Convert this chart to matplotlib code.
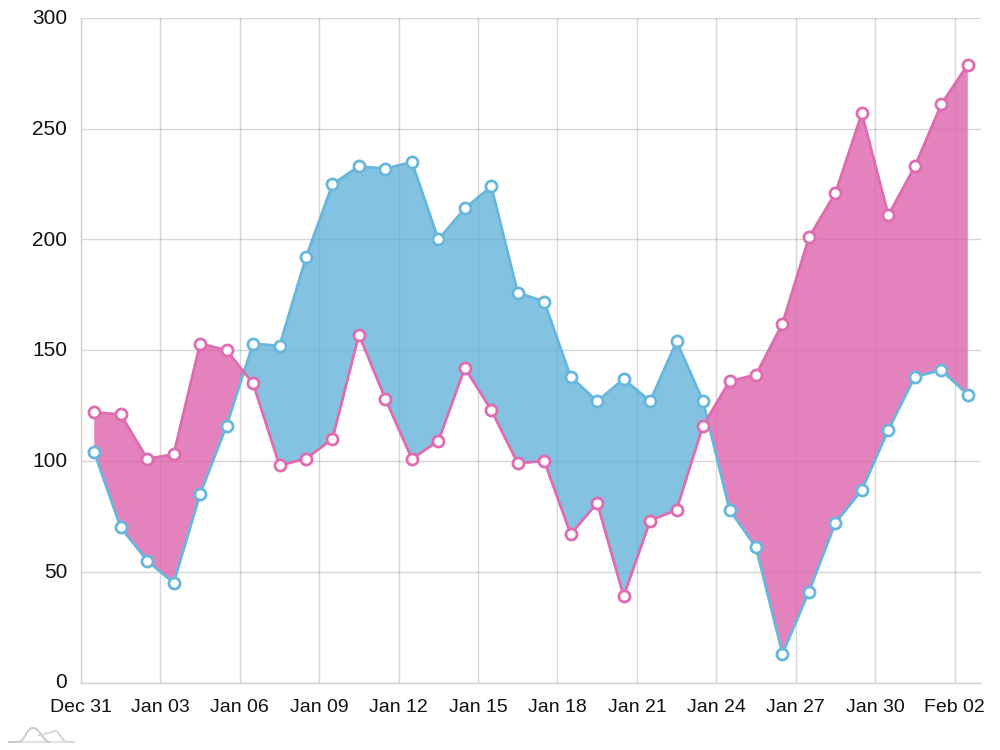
import numpy as np
import matplotlib.pyplot as plt
from matplotlib.patches import PathPatch
from matplotlib.path import Path
from matplotlib.transforms import ScaledTranslation

tick_labels = ["Dec 31", "Jan 03", "Jan 06", "Jan 09", "Jan 12", "Jan 15",
               "Jan 18", "Jan 21", "Jan 24", "Jan 27", "Jan 30", "Feb 02"]
y_ticks = [0, 50, 100, 150, 200, 250, 300]

pink_values = [122, 121, 101, 103, 153, 150, 135, 98, 101, 110, 157, 128,
               101, 109, 142, 123, 99, 100, 67, 81, 39, 73, 78, 116,
               136, 139, 162, 201, 221, 257, 211, 233, 261, 279]
blue_values = [104, 70, 55, 45, 85, 116, 153, 152, 192, 225, 233, 232,
               235, 200, 214, 224, 176, 172, 138, 127, 137, 127, 154, 127,
               78, 61, 13, 41, 72, 87, 114, 138, 141, 130]

PINK = "#e06cb0"
BLUE = "#67b7dc"

plt.rcParams['font.family'] = ['Liberation Sans', 'DejaVu Sans']

fig = plt.figure(figsize=(10, 7.5), dpi=100)
ax = fig.add_axes([0.081, 1 - 682.5 / 750, 0.9, (682.5 - 18) / 750])

# each day sits in the middle of its own cell, ticks are on the cell edge
x = np.arange(len(pink_values)) + 0.5
pink = np.array(pink_values)
blue = np.array(blue_values)

ax.fill_between(x, pink, blue, where=pink >= blue, interpolate=True,
                color="#dc5fa9", alpha=0.78, linewidth=0, zorder=2)
ax.fill_between(x, pink, blue, where=blue >= pink, interpolate=True,
                color="#5baed8", alpha=0.75, linewidth=0, zorder=2)

ax.plot(x, blue, color=BLUE, lw=2, zorder=3, marker="o", ms=8, mfc="white",
        mew=2, mec=BLUE, clip_on=False)
ax.plot(x, pink, color=PINK, lw=2, zorder=4, marker="o", ms=8, mfc="white",
        mew=2, mec=PINK, clip_on=False)

ax.set_xlim(0, len(pink_values))
ax.set_ylim(0, 300)
ax.set_xticks(np.arange(len(tick_labels)) * 3)
ax.set_xticklabels(tick_labels)
ax.set_yticks(y_ticks)

ax.grid(True, color="#000000", alpha=0.16, lw=1)
ax.set_axisbelow(True)
ax.tick_params(length=0, colors="#111111")
ax.tick_params(axis="x", pad=12, labelsize=14)
ax.tick_params(axis="y", pad=10, labelsize=15)
for side in ["top", "right"]:
    ax.spines[side].set_visible(False)
for side in ["left", "bottom"]:
    ax.spines[side].set_color("#d0d0d0")
    ax.spines[side].set_linewidth(1)

# y labels sit a touch above their gridlines
lift = ScaledTranslation(0, 1.5 / 100, fig.dpi_scale_trans)
for lab in ax.get_yticklabels():
    lab.set_transform(lab.get_transform() + lift)

# small watermark logo under the axis, in pixel coords
logo_ax = fig.add_axes([0, 0, 0.08, 30 / 750])
logo_ax.set_xlim(0, 80)
logo_ax.set_ylim(750, 720)
logo_ax.axis("off")
C4 = Path.CURVE4
hump_one = Path([(8, 742), (18, 742), (25, 742), (26, 728), (33, 728), (41, 728), (42, 742), (50, 742)],
                [Path.MOVETO, Path.LINETO, C4, C4, C4, C4, C4, C4])
hump_two = Path([(38, 735), (43, 736), (45, 733), (48, 733), (51, 733), (52, 731), (55, 731),
                 (60, 731), (61, 742), (68, 742), (75, 742)],
                [Path.MOVETO, C4, C4, C4, C4, C4, C4, C4, C4, C4, Path.LINETO])
base = Path([(18, 742), (66, 742)], [Path.MOVETO, Path.LINETO])
logo_ax.add_patch(PathPatch(base, fc="none", ec="#e2e2e2", lw=1.5))
logo_ax.add_patch(PathPatch(hump_one, fc="none", ec="#c8c8c8", lw=1.3))
logo_ax.add_patch(PathPatch(hump_two, fc="none", ec="#d4d4d4", lw=1.3))

fig.savefig("out.png", dpi=100)
plt.close()
